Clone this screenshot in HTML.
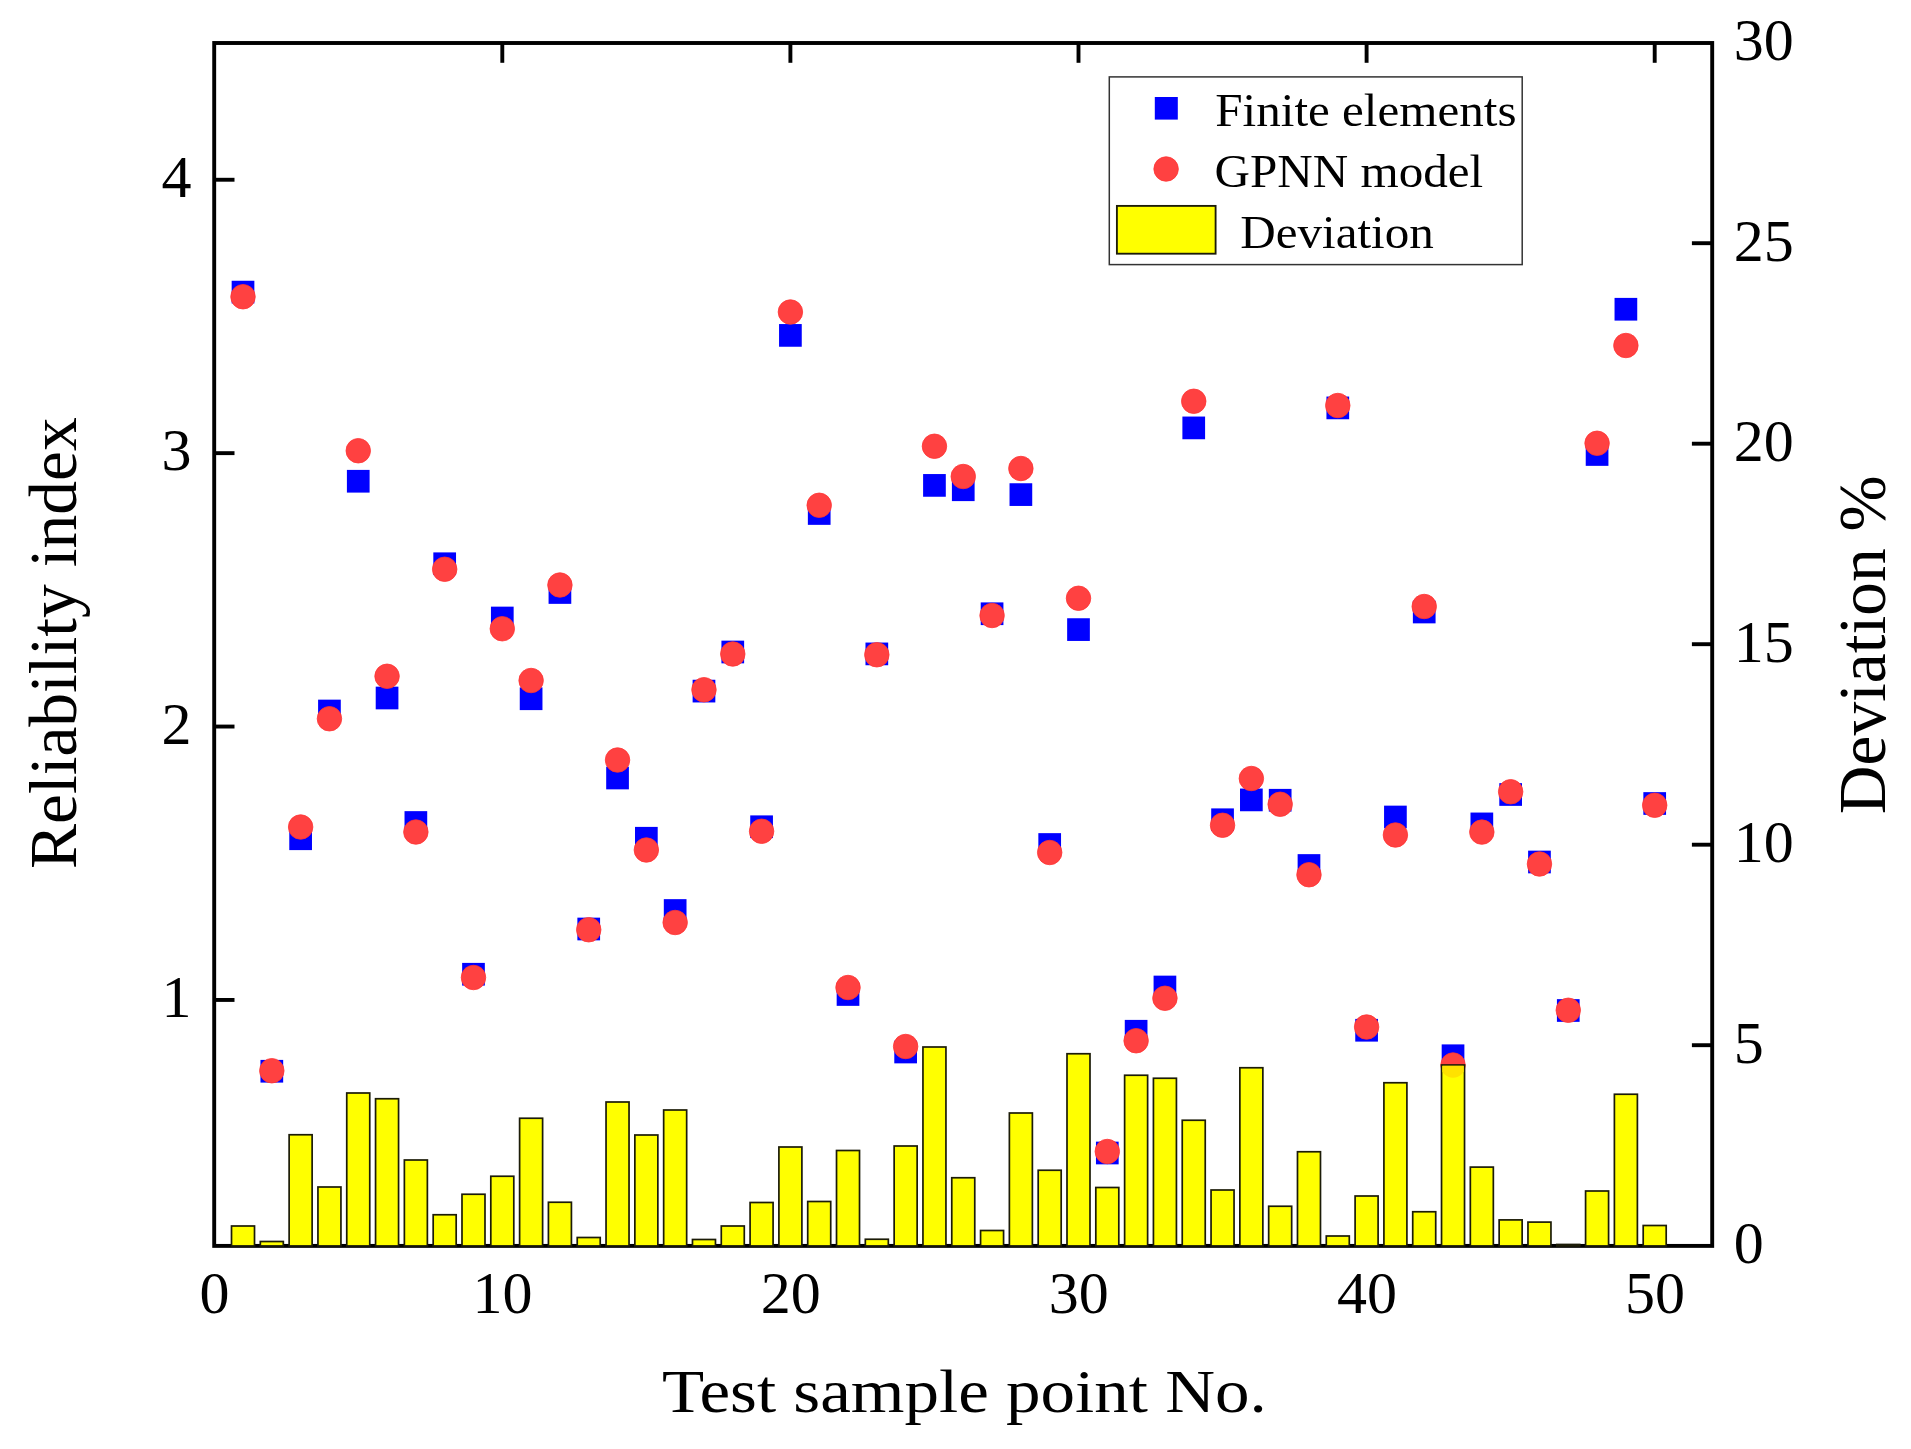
<!DOCTYPE html>
<html lang="en"><head><meta charset="utf-8"><title>Reliability index vs test sample point</title>
<style>html,body{margin:0;padding:0;background:#fff}svg{display:block}text{font-family:"Liberation Serif","Times New Roman",serif;fill:#000}</style></head><body>
<svg width="1911" height="1449" viewBox="0 0 1911 1449">
<rect width="1911" height="1449" fill="#fff"/>
<g fill="#0000ff">
<rect x="231.66" y="280.75" width="22.7" height="22.7"/>
<rect x="260.47" y="1059.90" width="22.7" height="22.7"/>
<rect x="289.28" y="827.40" width="22.7" height="22.7"/>
<rect x="318.09" y="699.65" width="22.7" height="22.7"/>
<rect x="346.90" y="469.90" width="22.7" height="22.7"/>
<rect x="375.71" y="686.65" width="22.7" height="22.7"/>
<rect x="404.52" y="811.15" width="22.7" height="22.7"/>
<rect x="433.33" y="552.40" width="22.7" height="22.7"/>
<rect x="462.14" y="962.90" width="22.7" height="22.7"/>
<rect x="490.95" y="606.65" width="22.7" height="22.7"/>
<rect x="519.76" y="687.40" width="22.7" height="22.7"/>
<rect x="548.57" y="581.15" width="22.7" height="22.7"/>
<rect x="577.38" y="917.65" width="22.7" height="22.7"/>
<rect x="606.19" y="766.65" width="22.7" height="22.7"/>
<rect x="635.00" y="826.90" width="22.7" height="22.7"/>
<rect x="663.81" y="899.15" width="22.7" height="22.7"/>
<rect x="692.62" y="679.75" width="22.7" height="22.7"/>
<rect x="721.43" y="640.65" width="22.7" height="22.7"/>
<rect x="750.24" y="815.40" width="22.7" height="22.7"/>
<rect x="779.05" y="324.05" width="22.7" height="22.7"/>
<rect x="807.86" y="502.15" width="22.7" height="22.7"/>
<rect x="836.67" y="983.15" width="22.7" height="22.7"/>
<rect x="865.48" y="642.55" width="22.7" height="22.7"/>
<rect x="894.29" y="1040.65" width="22.7" height="22.7"/>
<rect x="923.10" y="474.05" width="22.7" height="22.7"/>
<rect x="951.91" y="478.40" width="22.7" height="22.7"/>
<rect x="980.72" y="602.40" width="22.7" height="22.7"/>
<rect x="1009.53" y="483.25" width="22.7" height="22.7"/>
<rect x="1038.34" y="833.15" width="22.7" height="22.7"/>
<rect x="1067.15" y="618.25" width="22.7" height="22.7"/>
<rect x="1095.96" y="1141.65" width="22.7" height="22.7"/>
<rect x="1124.77" y="1019.90" width="22.7" height="22.7"/>
<rect x="1153.58" y="975.65" width="22.7" height="22.7"/>
<rect x="1182.39" y="416.55" width="22.7" height="22.7"/>
<rect x="1211.20" y="808.40" width="22.7" height="22.7"/>
<rect x="1240.01" y="788.55" width="22.7" height="22.7"/>
<rect x="1268.82" y="788.90" width="22.7" height="22.7"/>
<rect x="1297.63" y="854.15" width="22.7" height="22.7"/>
<rect x="1326.44" y="396.55" width="22.7" height="22.7"/>
<rect x="1355.25" y="1018.90" width="22.7" height="22.7"/>
<rect x="1384.06" y="805.65" width="22.7" height="22.7"/>
<rect x="1412.87" y="600.65" width="22.7" height="22.7"/>
<rect x="1441.68" y="1044.40" width="22.7" height="22.7"/>
<rect x="1470.49" y="812.55" width="22.7" height="22.7"/>
<rect x="1499.30" y="783.15" width="22.7" height="22.7"/>
<rect x="1528.11" y="850.65" width="22.7" height="22.7"/>
<rect x="1556.92" y="999.15" width="22.7" height="22.7"/>
<rect x="1585.73" y="443.15" width="22.7" height="22.7"/>
<rect x="1614.54" y="297.90" width="22.7" height="22.7"/>
<rect x="1643.35" y="792.15" width="22.7" height="22.7"/>
</g><g fill="#ff4141" stroke="#ff3434" stroke-width="0.8">
<circle cx="243.01" cy="296.75" r="12.25"/>
<circle cx="271.82" cy="1070.75" r="12.25"/>
<circle cx="300.63" cy="827.00" r="12.25"/>
<circle cx="329.44" cy="718.75" r="12.25"/>
<circle cx="358.25" cy="450.75" r="12.25"/>
<circle cx="387.06" cy="676.25" r="12.25"/>
<circle cx="415.87" cy="832.00" r="12.25"/>
<circle cx="444.68" cy="569.25" r="12.25"/>
<circle cx="473.49" cy="977.50" r="12.25"/>
<circle cx="502.30" cy="628.75" r="12.25"/>
<circle cx="531.11" cy="680.50" r="12.25"/>
<circle cx="559.92" cy="585.00" r="12.25"/>
<circle cx="588.73" cy="929.75" r="12.25"/>
<circle cx="617.54" cy="760.00" r="12.25"/>
<circle cx="646.35" cy="850.00" r="12.25"/>
<circle cx="675.16" cy="922.50" r="12.25"/>
<circle cx="703.97" cy="689.75" r="12.25"/>
<circle cx="732.78" cy="654.00" r="12.25"/>
<circle cx="761.59" cy="831.25" r="12.25"/>
<circle cx="790.40" cy="312.00" r="12.25"/>
<circle cx="819.21" cy="505.25" r="12.25"/>
<circle cx="848.02" cy="987.50" r="12.25"/>
<circle cx="876.83" cy="654.75" r="12.25"/>
<circle cx="905.64" cy="1046.50" r="12.25"/>
<circle cx="934.45" cy="446.25" r="12.25"/>
<circle cx="963.26" cy="476.50" r="12.25"/>
<circle cx="992.07" cy="615.50" r="12.25"/>
<circle cx="1020.88" cy="468.50" r="12.25"/>
<circle cx="1049.69" cy="852.50" r="12.25"/>
<circle cx="1078.50" cy="598.25" r="12.25"/>
<circle cx="1107.31" cy="1151.50" r="12.25"/>
<circle cx="1136.12" cy="1040.75" r="12.25"/>
<circle cx="1164.93" cy="998.25" r="12.25"/>
<circle cx="1193.74" cy="401.25" r="12.25"/>
<circle cx="1222.55" cy="825.25" r="12.25"/>
<circle cx="1251.36" cy="778.50" r="12.25"/>
<circle cx="1280.17" cy="804.25" r="12.25"/>
<circle cx="1308.98" cy="874.75" r="12.25"/>
<circle cx="1337.79" cy="405.50" r="12.25"/>
<circle cx="1366.60" cy="1027.00" r="12.25"/>
<circle cx="1395.41" cy="835.00" r="12.25"/>
<circle cx="1424.22" cy="606.50" r="12.25"/>
<circle cx="1453.03" cy="1065.00" r="12.25"/>
<circle cx="1481.84" cy="832.10" r="12.25"/>
<circle cx="1510.65" cy="791.75" r="12.25"/>
<circle cx="1539.46" cy="864.00" r="12.25"/>
<circle cx="1568.27" cy="1010.25" r="12.25"/>
<circle cx="1597.08" cy="443.25" r="12.25"/>
<circle cx="1625.89" cy="345.50" r="12.25"/>
<circle cx="1654.70" cy="805.25" r="12.25"/>
</g>
<g stroke="#000" stroke-width="3.9" fill="none">
<rect x="214.2" y="43.0" width="1498.0" height="1202.9"/>
<line x1="502.30" y1="43.0" x2="502.30" y2="62.8"/>
<line x1="790.40" y1="43.0" x2="790.40" y2="62.8"/>
<line x1="1078.50" y1="43.0" x2="1078.50" y2="62.8"/>
<line x1="1366.60" y1="43.0" x2="1366.60" y2="62.8"/>
<line x1="1654.70" y1="43.0" x2="1654.70" y2="62.8"/>
<line x1="214.2" y1="999.95" x2="234.5" y2="999.95"/>
<line x1="214.2" y1="726.55" x2="234.5" y2="726.55"/>
<line x1="214.2" y1="453.15" x2="234.5" y2="453.15"/>
<line x1="214.2" y1="179.75" x2="234.5" y2="179.75"/>
<line x1="1712.2" y1="1045.20" x2="1691.9" y2="1045.20"/>
<line x1="1712.2" y1="844.70" x2="1691.9" y2="844.70"/>
<line x1="1712.2" y1="644.20" x2="1691.9" y2="644.20"/>
<line x1="1712.2" y1="443.70" x2="1691.9" y2="443.70"/>
<line x1="1712.2" y1="243.20" x2="1691.9" y2="243.20"/>
</g>
<g fill="#ffff00" stroke="#1c1c08" stroke-width="1.7">
<rect x="231.51" y="1226.00" width="23.0" height="19.95"/>
<rect x="260.32" y="1241.50" width="23.0" height="4.45"/>
<rect x="289.13" y="1134.75" width="23.0" height="111.20"/>
<rect x="317.94" y="1187.00" width="23.0" height="58.95"/>
<rect x="346.75" y="1093.00" width="23.0" height="152.95"/>
<rect x="375.56" y="1098.75" width="23.0" height="147.20"/>
<rect x="404.37" y="1160.00" width="23.0" height="85.95"/>
<rect x="433.18" y="1214.75" width="23.0" height="31.20"/>
<rect x="461.99" y="1194.25" width="23.0" height="51.70"/>
<rect x="490.80" y="1176.25" width="23.0" height="69.70"/>
<rect x="519.61" y="1118.25" width="23.0" height="127.70"/>
<rect x="548.42" y="1202.25" width="23.0" height="43.70"/>
<rect x="577.23" y="1237.50" width="23.0" height="8.45"/>
<rect x="606.04" y="1102.00" width="23.0" height="143.95"/>
<rect x="634.85" y="1135.00" width="23.0" height="110.95"/>
<rect x="663.66" y="1110.00" width="23.0" height="135.95"/>
<rect x="692.47" y="1239.50" width="23.0" height="6.45"/>
<rect x="721.28" y="1226.00" width="23.0" height="19.95"/>
<rect x="750.09" y="1202.50" width="23.0" height="43.45"/>
<rect x="778.90" y="1147.00" width="23.0" height="98.95"/>
<rect x="807.71" y="1201.50" width="23.0" height="44.45"/>
<rect x="836.52" y="1150.50" width="23.0" height="95.45"/>
<rect x="865.33" y="1239.25" width="23.0" height="6.70"/>
<rect x="894.14" y="1146.00" width="23.0" height="99.95"/>
<rect x="922.95" y="1047.00" width="23.0" height="198.95"/>
<rect x="951.76" y="1177.75" width="23.0" height="68.20"/>
<rect x="980.57" y="1230.50" width="23.0" height="15.45"/>
<rect x="1009.38" y="1113.00" width="23.0" height="132.95"/>
<rect x="1038.19" y="1170.25" width="23.0" height="75.70"/>
<rect x="1067.00" y="1053.75" width="23.0" height="192.20"/>
<rect x="1095.81" y="1187.50" width="23.0" height="58.45"/>
<rect x="1124.62" y="1075.25" width="23.0" height="170.70"/>
<rect x="1153.43" y="1078.25" width="23.0" height="167.70"/>
<rect x="1182.24" y="1120.25" width="23.0" height="125.70"/>
<rect x="1211.05" y="1190.00" width="23.0" height="55.95"/>
<rect x="1239.86" y="1067.75" width="23.0" height="178.20"/>
<rect x="1268.67" y="1206.25" width="23.0" height="39.70"/>
<rect x="1297.48" y="1151.75" width="23.0" height="94.20"/>
<rect x="1326.29" y="1236.00" width="23.0" height="9.95"/>
<rect x="1355.10" y="1196.00" width="23.0" height="49.95"/>
<rect x="1383.91" y="1082.75" width="23.0" height="163.20"/>
<rect x="1412.72" y="1211.75" width="23.0" height="34.20"/>
<rect x="1441.53" y="1065.00" width="23.0" height="180.95"/>
<rect x="1470.34" y="1167.10" width="23.0" height="78.85"/>
<rect x="1499.15" y="1219.90" width="23.0" height="26.05"/>
<rect x="1527.96" y="1222.10" width="23.0" height="23.85"/>
<rect x="1556.77" y="1244.50" width="23.0" height="1.45"/>
<rect x="1585.58" y="1191.00" width="23.0" height="54.95"/>
<rect x="1614.39" y="1094.25" width="23.0" height="151.70"/>
<rect x="1643.20" y="1225.50" width="23.0" height="20.45"/>
</g>
<clipPath id="c43"><rect x="1442.38" y="1065.85" width="21.3" height="60"/></clipPath>
<circle cx="1453.03" cy="1065" r="12.65" fill="#ffe200" clip-path="url(#c43)"/>
<g font-size="60">
<text x="214.50" y="1312.6" text-anchor="middle">0</text>
<text x="502.60" y="1312.6" text-anchor="middle">10</text>
<text x="790.70" y="1312.6" text-anchor="middle">20</text>
<text x="1078.80" y="1312.6" text-anchor="middle">30</text>
<text x="1366.90" y="1312.6" text-anchor="middle">40</text>
<text x="1655.00" y="1312.6" text-anchor="middle">50</text>
<text x="191.6" y="1017.25" text-anchor="end">1</text>
<text x="191.6" y="743.85" text-anchor="end">2</text>
<text x="191.6" y="470.45" text-anchor="end">3</text>
<text x="191.6" y="197.05" text-anchor="end">4</text>
<text x="1733.8" y="1263.10">0</text>
<text x="1733.8" y="1062.60">5</text>
<text x="1733.8" y="862.10">10</text>
<text x="1733.8" y="661.60">15</text>
<text x="1733.8" y="461.10">20</text>
<text x="1733.8" y="260.60">25</text>
<text x="1733.8" y="60.10">30</text>
</g>
<text transform="translate(964.4 1412) scale(1.137 1)" font-size="60.7" text-anchor="middle">Test sample point No.</text>
<text transform="translate(75.9 643.2) rotate(-90)" font-size="67.5" text-anchor="middle">Reliability index</text>
<text transform="translate(1885.4 644.8) rotate(-90)" font-size="67.4" text-anchor="middle">Deviation %</text>
<rect x="1109.3" y="76.9" width="412.9" height="187.7" fill="#fff" stroke="#333" stroke-width="1.5"/>
<rect x="1154.8" y="97" width="23" height="22.6" fill="#0000ff"/>
<circle cx="1166.1" cy="169" r="12.25" fill="#ff4141" stroke="#ff3434" stroke-width="0.8"/>
<rect x="1116.9" y="205.9" width="98.7" height="47.8" fill="#ffff00" stroke="#1c1c08" stroke-width="1.85"/>
<g font-size="47.2">
<text transform="translate(1215.3 125.75) scale(1.04 1)">Finite elements</text>
<text transform="translate(1214.6 187) scale(1.04 1)">GPNN model</text>
<text transform="translate(1240.3 247.5) scale(1.04 1)">Deviation</text>
</g>
</svg></body></html>
